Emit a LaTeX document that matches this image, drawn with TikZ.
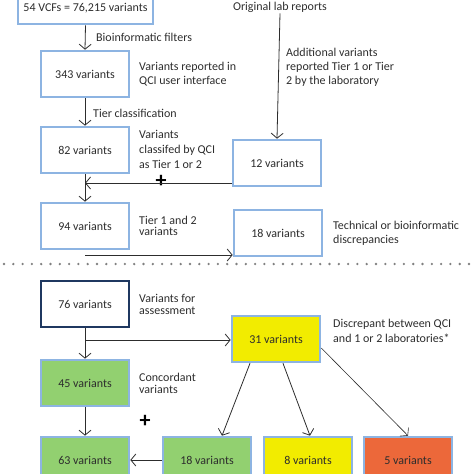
\documentclass[tikz,border=0pt]{standalone}
\usepackage{fontspec}
\setmainfont{Carlito}
\usetikzlibrary{arrows.meta, positioning}

\definecolor{boxblue}{RGB}{141,180,226}
\definecolor{navy}{RGB}{31,56,96}
\definecolor{leafgreen}{RGB}{146,208,112}
\definecolor{brightyellow}{RGB}{242,236,0}
\definecolor{burnt}{RGB}{236,104,58}
\definecolor{ink}{RGB}{45,45,45}

\begin{document}
\begin{tikzpicture}[x=1pt, y=1pt, font=\fontsize{12}{14}\selectfont,
  vbox/.style={draw=boxblue, line width=2.6pt, fill=white, minimum width=88pt, minimum height=46pt, text=ink, inner sep=1pt},
  note/.style={align=left, anchor=west, text=ink, inner sep=0pt},
  arr/.style={draw=ink, line width=0.8pt, -{Straight Barb[length=5pt, width=12pt]}},
  dotrule/.style={draw=gray, line width=2.6pt, line cap=round, dash pattern=on 0pt off 9.3pt}]
\useasboundingbox (0,0) rectangle (474,-474);
\clip (0,0) rectangle (474,-474);

% Sources
\node[vbox, minimum width=135pt, minimum height=46pt, text height=20pt, text depth=0pt] (vcf) at (85.5,-1) {54 VCFs = 76,215 variants};
\node[text=ink, inner sep=1pt] (lab) at (280,-7) {Original lab reports};

% Upper workflow
\node[vbox] (v343) at (85,-74) {343 variants};
\node[vbox] (v82) at (85,-150) {82 variants};
\node[vbox] (v12) at (277,-163) {12 variants};
\node[vbox] (v94) at (85,-226) {94 variants};
\node[vbox] (v18t) at (278,-233) {18 variants};

\node[note] (filt) at (96,-37) {Bioinformatic filters};
\node[note] (qciui) at (139,-74) {Variants reported in\\QCI user interface};
\node[note] (tier) at (93,-113) {Tier classification};
\node[note, font=\fontsize{12}{15}\selectfont] (byqci) at (139,-149) {Variants\\classifed by QCI\\as Tier 1 or 2};
\node[note] (addl) at (286,-67) {Additional variants\\reported Tier 1 or Tier\\2 by the laboratory};
\node[note, font=\fontsize{12}{11.5}\selectfont] (t12) at (139,-226) {Tier 1 and 2\\variants};
\node[note] (tech) at (333,-233) {Technical or bioinformatic\\discrepancies};
\node[font=\fontsize{22}{22}\selectfont\bfseries, inner sep=0pt] (plus1) at (161,-181) {+};

\coordinate (j1) at (85,-183);
\coordinate (j2) at (85,-255);
\draw[arr] (vcf.south) -- (v343.north);
\draw[arr] (v343.south) -- (v82.north);
\draw[arr] (lab.south) -- (v12.north);
\draw[arr] (v82.south) -- (v94.north);
\draw[arr] (v12.west |- j1) -- (j1);
\draw[arr] (j2) -- (v18t.west |- j2);

% Divider
\draw[dotrule] (4,-264) -- (474,-264);

% Assessment
\node[vbox, draw=navy] (v76) at (85,-304) {76 variants};
\node[vbox, fill=brightyellow] (v31) at (276,-339) {31 variants};
\node[vbox, fill=leafgreen] (v45) at (85,-383) {45 variants};
\node[vbox, fill=leafgreen] (v63) at (85,-460) {63 variants};
\node[vbox, fill=leafgreen] (v18g) at (207,-460) {18 variants};
\node[vbox, fill=brightyellow] (v8) at (308,-460) {8 variants};
\node[vbox, fill=burnt] (v5) at (408,-460) {5 variants};

\node[note, font=\fontsize{12}{12}\selectfont] (assess) at (139,-304) {Variants for\\assessment};
\node[note, font=\fontsize{12}{15}\selectfont] (discr) at (333,-331) {Discrepant between QCI\\and 1 or 2 laboratories*};
\node[note, font=\fontsize{12}{12}\selectfont] (conc) at (139,-383) {Concordant\\variants};
\node[font=\fontsize{22}{22}\selectfont\bfseries, inner sep=0pt] (plus2) at (145,-421) {+};

\coordinate (j3) at (85,-340);
\draw[arr] (v76.south) -- (v45.north);
\draw[arr] (j3) -- (v31.west |- j3);
\draw[arr] (v45.south) -- (v63.north);
\draw[arr] ([xshift=-26pt]v31.south) -- ([xshift=15pt]v18g.north);
\draw[arr] ([xshift=7pt]v31.south) -- ([xshift=2pt]v8.north);
\draw[arr, line width=0.6pt] ([yshift=-9pt]v31.east) -- (v5.north);
\draw[arr] (v18g.west) -- (v63.east);
\end{tikzpicture}
\end{document}
